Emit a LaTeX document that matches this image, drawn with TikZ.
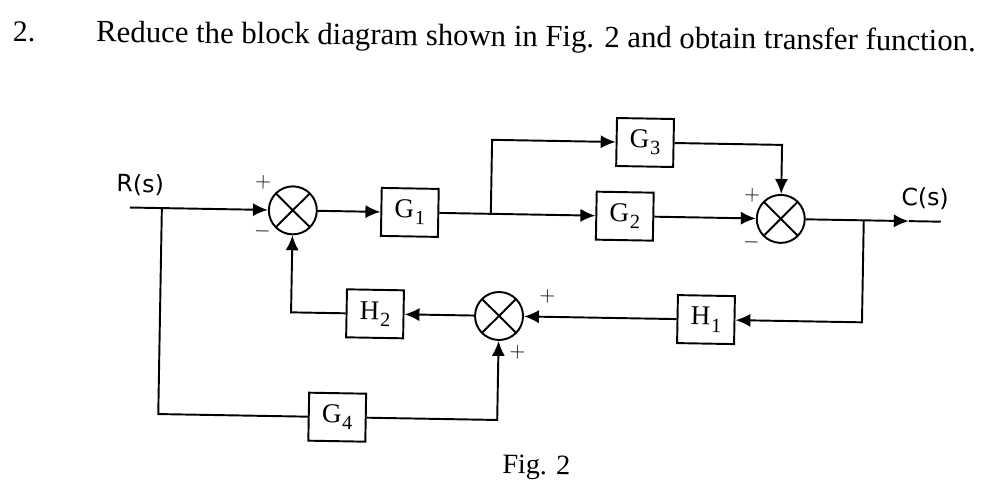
\documentclass[tikz,border=0pt]{standalone}
\usepackage{fontspec}
\setmainfont{Liberation Serif}
\newfontfamily\sigfont{DejaVu Sans}
\usetikzlibrary{arrows.meta, positioning}

% block label with a lowered index
\newcommand{\blk}[2]{#1\kern0.5pt\raisebox{-0.55ex}{\fontsize{11.5}{11.5}\selectfont #2}}

\begin{document}
\begin{tikzpicture}[
            x=0.02cm, y=-0.02cm,
            line width=1.1pt,
            block/.style={draw, rectangle, minimum width=1.14cm, minimum height=0.96cm, inner sep=0pt, font=\fontsize{15.5}{17}\selectfont}, % transfer blocks
            sumnode/.style={draw, circle, minimum size=0.96cm, inner sep=0pt,
                path picture={\draw[line width=1.1pt] (path picture bounding box.north west) -- (path picture bounding box.south east)
                    (path picture bounding box.north east) -- (path picture bounding box.south west);}}, % summing points
            sig/.style={font=\sigfont\fontsize{13.5}{15}\selectfont}, % signal names
            sgn/.style={inner sep=0pt, font=\fontsize{12}{12}\selectfont}, % signs at the summing points
            flow/.style={-{Latex[length=8.5pt,width=7.5pt]}}
            ]
        \useasboundingbox (0,0) rectangle (989,492);

        % question text
        \node[anchor=west, font=\fontsize{17}{20}\selectfont] (num) at (6,32) {2.};
        \node[rotate=-0.6, font=\fontsize{17.5}{20}\selectfont] (title) at (536,39) {Reduce the block diagram shown in Fig. 2 and obtain transfer function.};

        \begin{scope}[rotate around={-1:(500,260)}, transform shape]
            % forward path
            \coordinate (rin) at (129,214);
            \coordinate (rb) at (161,214);
            \node[sumnode] (s1) at (292,214) {};
            \node[block] (G1) at (409,214) {\blk{G}{1}};
            \coordinate (br) at (490,214);
            \node[block] (G2) at (624,214) {\blk{G}{2}};
            \node[block] (G3) at (643,140) {\blk{G}{3}};
            \node[sumnode] (s2) at (780,214) {};
            \coordinate (fb) at (863,214);
            \coordinate (cmid) at (908,214);
            \coordinate (cout) at (940,214);

            % feedback path
            \node[block] (H1) at (707,316) {\blk{H}{1}};
            \node[sumnode] (s3) at (500,316) {};
            \node[block] (H2) at (376,316) {\blk{H}{2}};
            \node[block] (G4) at (340,420) {\blk{G}{4}};

            % signals and signs
            \node[sig] (R) at (139,191) {R(s)};
            \node[sig] (C) at (924,191) {C(s)};
            \node[sgn] (p1) at (262,187) {$+$};
            \node[sgn] (m1) at (262,236) {$-$};
            \node[sgn] (p2) at (751,191) {$+$};
            \node[sgn] (m2) at (751,238) {$-$};
            \node[sgn] (p3) at (548,296) {$+$};
            \node[sgn] (p4) at (519,352) {$+$};
            \node[font=\fontsize{16}{18}\selectfont] (fig) at (540,467) {Fig. 2};

            % connectors
            \draw[flow] (rin) -- (s1);
            \draw[flow] (s1) -- (G1);
            \draw (G1) -- (br);
            \draw[flow] (br) -- (G2);
            \draw[flow] (br) |- (G3);
            \draw[flow] (G3) -| (s2);
            \draw[flow] (G2) -- (s2);
            \draw (s2) -- (fb);
            \draw[flow] (fb) -- (cmid);
            \draw (cmid) -- (cout);
            \draw[flow] (fb) |- (H1);
            \draw[flow] (H1) -- (s3);
            \draw[flow] (s3) -- (H2);
            \draw[flow] (H2) -| (s1);
            \draw (rb) |- (G4);
            \draw[flow] (G4) -| (s3);
        \end{scope}
\end{tikzpicture}
\end{document}
